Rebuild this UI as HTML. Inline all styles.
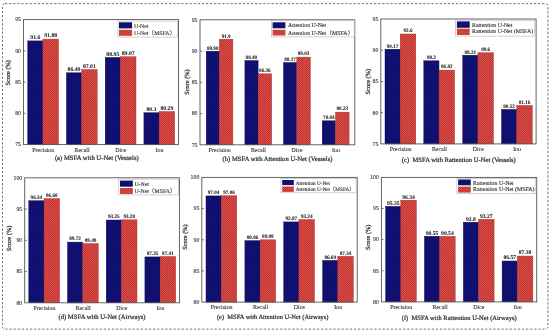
<!DOCTYPE html>
<html><head><meta charset="utf-8"><title>MSFA comparison</title>
<style>
html,body{margin:0;padding:0;background:#fff;}
body{width:550px;height:333px;overflow:hidden;}
svg{display:block;}
text{text-rendering:geometricPrecision;stroke:#333;stroke-width:0.22px;font-family:"Liberation Serif","Noto Serif CJK SC",serif;fill:#2a2a2a;}
.v{font-weight:bold;stroke-width:0.08px;text-anchor:middle;fill:#1c1c1c;}
.t{font-size:5.8px;text-anchor:end;stroke-width:0.1px;}
.c{font-size:5.9px;text-anchor:middle;stroke-width:0.12px;fill:#333;}
.cap{text-anchor:middle;}
.lg{stroke-width:0.12px;}
.yl{font-size:6.35px;text-anchor:middle;}
</style></head><body>
<svg width="550" height="333" viewBox="0 0 550 333">
<defs>
<pattern id="hr" width="1.5" height="1.5" patternUnits="userSpaceOnUse" patternTransform="rotate(45)">
<rect width="1.5" height="1.5" fill="#c02825"/><rect width="1.5" height="0.55" fill="#e56e66"/></pattern>
<pattern id="hb" width="1.5" height="1.5" patternUnits="userSpaceOnUse">
<rect width="1.5" height="1.5" fill="#0e0e6e"/><rect width="0.5" height="0.5" fill="#1d1d7e"/></pattern>
</defs>
<rect width="550" height="333" fill="#fff"/>
<rect x="2.5" y="3.6" width="545.4" height="325.5" rx="2.5" ry="2.5" fill="none" stroke="#666" stroke-width="0.9" stroke-dasharray="2.3 1.8"/>

<g>
<rect x="27.7" y="40.9" width="15.2" height="103.7" fill="url(#hb)" stroke="#08084a" stroke-width="0.4"/>
<rect x="42.9" y="39.1" width="15.6" height="105.5" fill="url(#hr)" stroke="#a82a28" stroke-width="0.4"/>
<text class="v" x="35.3" y="39.2" font-size="5.75">91.6</text>
<text class="v" x="50.7" y="37.4" font-size="5.75">91.88</text>
<text class="c" x="43.3" y="151.7">Precision</text>
<rect x="66.4" y="72.8" width="15.2" height="71.8" fill="url(#hb)" stroke="#08084a" stroke-width="0.4"/>
<rect x="81.6" y="69.5" width="15.6" height="75.1" fill="url(#hr)" stroke="#a82a28" stroke-width="0.4"/>
<text class="v" x="74.0" y="71.1" font-size="5.75">86.49</text>
<text class="v" x="89.4" y="67.8" font-size="5.75">87.01</text>
<text class="c" x="82.0" y="151.7">Recall</text>
<rect x="105.2" y="57.4" width="15.2" height="87.2" fill="url(#hb)" stroke="#08084a" stroke-width="0.4"/>
<rect x="120.4" y="56.7" width="15.6" height="87.9" fill="url(#hr)" stroke="#a82a28" stroke-width="0.4"/>
<text class="v" x="112.8" y="55.7" font-size="5.75">88.95</text>
<text class="v" x="128.2" y="55.0" font-size="5.75">89.07</text>
<text class="c" x="120.8" y="151.7">Dice</text>
<rect x="143.9" y="112.7" width="15.2" height="31.9" fill="url(#hb)" stroke="#08084a" stroke-width="0.4"/>
<rect x="159.1" y="111.5" width="15.6" height="33.1" fill="url(#hr)" stroke="#a82a28" stroke-width="0.4"/>
<text class="v" x="151.5" y="111.0" font-size="5.75">80.1</text>
<text class="v" x="166.9" y="109.8" font-size="5.75">80.29</text>
<text class="c" x="159.5" y="151.7">Iou</text>
<rect x="23.5" y="19.6" width="155.0" height="125.0" fill="none" stroke="#555" stroke-width="0.9"/>
<text class="t" x="21.0" y="21.4">95</text>
<line x1="23.5" y1="50.9" x2="25.7" y2="50.9" stroke="#555" stroke-width="0.8"/>
<text class="t" x="21.0" y="52.6">90</text>
<line x1="23.5" y1="82.1" x2="25.7" y2="82.1" stroke="#555" stroke-width="0.8"/>
<text class="t" x="21.0" y="83.9">85</text>
<line x1="23.5" y1="113.3" x2="25.7" y2="113.3" stroke="#555" stroke-width="0.8"/>
<text class="t" x="21.0" y="115.1">80</text>
<text class="t" x="21.0" y="146.4">75</text>
<text class="yl" transform="translate(10.3 72.8) rotate(-90)">Score (%)</text>
<rect x="118.0" y="21.1" width="59.5" height="16.0" fill="#fff" stroke="#b4b4b4" stroke-width="0.6"/>
<rect x="119.0" y="22.3" width="13.1" height="6.1" fill="url(#hb)"/>
<rect x="119.0" y="29.8" width="13.1" height="6.0" fill="url(#hr)"/>
<text class="lg" x="134.0" y="27.6" font-size="5.78">U-Net</text>
<text class="lg" x="134.0" y="34.9" font-size="5.78">U-Net（MSFA）</text>
<text class="cap" x="96.8" y="160.0" font-size="6.67" xml:space="preserve">(a) MSFA with U-Net (Vessels)</text>
</g>
<g>
<rect x="206.2" y="51.2" width="13.2" height="93.6" fill="url(#hb)" stroke="#08084a" stroke-width="0.4"/>
<rect x="219.3" y="39.2" width="13.6" height="105.6" fill="url(#hr)" stroke="#a82a28" stroke-width="0.4"/>
<text class="v" x="212.7" y="49.5" font-size="5.15">89.98</text>
<text class="v" x="226.2" y="37.5" font-size="5.15">91.9</text>
<text class="c" x="219.8" y="151.9">Precision</text>
<rect x="244.9" y="60.5" width="13.2" height="84.3" fill="url(#hb)" stroke="#08084a" stroke-width="0.4"/>
<rect x="258.1" y="73.8" width="13.6" height="71.0" fill="url(#hr)" stroke="#a82a28" stroke-width="0.4"/>
<text class="v" x="251.4" y="58.8" font-size="5.15">88.48</text>
<text class="v" x="264.9" y="72.1" font-size="5.15">86.36</text>
<text class="c" x="258.4" y="151.9">Recall</text>
<rect x="283.5" y="62.5" width="13.2" height="82.3" fill="url(#hb)" stroke="#08084a" stroke-width="0.4"/>
<rect x="296.8" y="57.1" width="13.6" height="87.7" fill="url(#hr)" stroke="#a82a28" stroke-width="0.4"/>
<text class="v" x="290.1" y="60.8" font-size="5.15">88.17</text>
<text class="v" x="303.6" y="55.4" font-size="5.15">89.03</text>
<text class="c" x="297.1" y="151.9">Dice</text>
<rect x="322.2" y="120.8" width="13.2" height="24.0" fill="url(#hb)" stroke="#08084a" stroke-width="0.4"/>
<rect x="335.5" y="112.1" width="13.6" height="32.7" fill="url(#hr)" stroke="#a82a28" stroke-width="0.4"/>
<text class="v" x="328.9" y="119.1" font-size="5.15">78.84</text>
<text class="v" x="342.3" y="110.4" font-size="5.15">80.23</text>
<text class="c" x="335.9" y="151.9">Iou</text>
<rect x="200.0" y="19.8" width="154.8" height="125.0" fill="none" stroke="#555" stroke-width="0.9"/>
<text class="t" x="197.5" y="21.6">95</text>
<line x1="200.0" y1="51.1" x2="202.2" y2="51.1" stroke="#555" stroke-width="0.8"/>
<text class="t" x="197.5" y="52.9">90</text>
<line x1="200.0" y1="82.3" x2="202.2" y2="82.3" stroke="#555" stroke-width="0.8"/>
<text class="t" x="197.5" y="84.1">85</text>
<line x1="200.0" y1="113.6" x2="202.2" y2="113.6" stroke="#555" stroke-width="0.8"/>
<text class="t" x="197.5" y="115.4">80</text>
<text class="t" x="197.5" y="146.6">75</text>
<text class="yl" transform="translate(188.5 82.1) rotate(-90)">Score (%)</text>
<rect x="271.4" y="20.6" width="82.8" height="16.3" fill="#fff" stroke="#b4b4b4" stroke-width="0.6"/>
<rect x="272.6" y="22.3" width="12.8" height="6.0" fill="url(#hb)"/>
<rect x="272.6" y="29.8" width="12.8" height="5.7" fill="url(#hr)"/>
<text class="lg" x="288.0" y="27.4" font-size="5.85">Attention U-Net</text>
<text class="lg" x="288.0" y="34.5" font-size="5.85">Attention U-Net（MSFA）</text>
<text class="cap" x="277.5" y="160.5" font-size="6.61" xml:space="preserve">(b) MSFA with Attention U-Net (Vessels)</text>
</g>
<g>
<rect x="385.0" y="49.2" width="15.2" height="94.7" fill="url(#hb)" stroke="#08084a" stroke-width="0.4"/>
<rect x="400.2" y="34.0" width="15.6" height="109.9" fill="url(#hr)" stroke="#a82a28" stroke-width="0.4"/>
<text class="v" x="392.6" y="47.5" font-size="5.15">90.17</text>
<text class="v" x="408.0" y="32.3" font-size="5.15">92.6</text>
<text class="c" x="400.6" y="151.0">Precision</text>
<rect x="423.8" y="60.8" width="15.2" height="83.1" fill="url(#hb)" stroke="#08084a" stroke-width="0.4"/>
<rect x="439.0" y="70.1" width="15.6" height="73.8" fill="url(#hr)" stroke="#a82a28" stroke-width="0.4"/>
<text class="v" x="431.4" y="59.1" font-size="5.15">88.3</text>
<text class="v" x="446.8" y="68.4" font-size="5.15">86.82</text>
<text class="c" x="439.4" y="151.0">Recall</text>
<rect x="462.7" y="55.2" width="15.2" height="88.7" fill="url(#hb)" stroke="#08084a" stroke-width="0.4"/>
<rect x="477.9" y="52.7" width="15.6" height="91.2" fill="url(#hr)" stroke="#a82a28" stroke-width="0.4"/>
<text class="v" x="470.3" y="53.5" font-size="5.15">89.21</text>
<text class="v" x="485.7" y="51.0" font-size="5.15">89.6</text>
<text class="c" x="478.3" y="151.0">Dice</text>
<rect x="501.5" y="109.4" width="15.2" height="34.5" fill="url(#hb)" stroke="#08084a" stroke-width="0.4"/>
<rect x="516.7" y="105.4" width="15.6" height="38.5" fill="url(#hr)" stroke="#a82a28" stroke-width="0.4"/>
<text class="v" x="509.1" y="107.7" font-size="5.15">80.52</text>
<text class="v" x="524.5" y="103.7" font-size="5.15">81.16</text>
<text class="c" x="517.1" y="151.0">Iou</text>
<rect x="380.8" y="19.0" width="155.3" height="124.9" fill="none" stroke="#555" stroke-width="0.9"/>
<text class="t" x="378.3" y="20.8">95</text>
<line x1="380.8" y1="50.2" x2="383.0" y2="50.2" stroke="#555" stroke-width="0.8"/>
<text class="t" x="378.3" y="52.0">90</text>
<line x1="380.8" y1="81.5" x2="383.0" y2="81.5" stroke="#555" stroke-width="0.8"/>
<text class="t" x="378.3" y="83.2">85</text>
<line x1="380.8" y1="112.7" x2="383.0" y2="112.7" stroke="#555" stroke-width="0.8"/>
<text class="t" x="378.3" y="114.5">80</text>
<text class="t" x="378.3" y="145.7">75</text>
<text class="yl" transform="translate(369.8 81.7) rotate(-90)">Score (%)</text>
<rect x="455.6" y="20.2" width="79.2" height="15.9" fill="#fff" stroke="#b4b4b4" stroke-width="0.6"/>
<rect x="456.9" y="21.4" width="12.8" height="6.4" fill="url(#hb)"/>
<rect x="456.9" y="28.7" width="12.8" height="6.3" fill="url(#hr)"/>
<text class="lg" x="472.0" y="26.8" font-size="5.83">Rattention U-Net</text>
<text class="lg" x="472.0" y="33.4" font-size="5.83">Rattention U-Net (MSFA)</text>
<text class="cap" x="458.8" y="161.5" font-size="6.62" xml:space="preserve">(c)  MSFA with Rattention U-Net (Vessels)</text>
</g>
<g>
<rect x="28.8" y="200.7" width="15.2" height="102.1" fill="url(#hb)" stroke="#08084a" stroke-width="0.4"/>
<rect x="44.0" y="198.5" width="15.6" height="104.3" fill="url(#hr)" stroke="#a82a28" stroke-width="0.4"/>
<text class="v" x="36.4" y="199.0" font-size="5.15">96.34</text>
<text class="v" x="51.8" y="196.8" font-size="5.15">96.68</text>
<text class="c" x="44.4" y="309.9">Precision</text>
<rect x="67.5" y="242.1" width="15.2" height="60.8" fill="url(#hb)" stroke="#08084a" stroke-width="0.4"/>
<rect x="82.7" y="243.5" width="15.6" height="59.3" fill="url(#hr)" stroke="#a82a28" stroke-width="0.4"/>
<text class="v" x="75.1" y="240.4" font-size="5.15">89.72</text>
<text class="v" x="90.5" y="241.8" font-size="5.15">89.49</text>
<text class="c" x="83.1" y="309.9">Recall</text>
<rect x="106.2" y="220.0" width="15.2" height="82.8" fill="url(#hb)" stroke="#08084a" stroke-width="0.4"/>
<rect x="121.4" y="219.8" width="15.6" height="83.0" fill="url(#hr)" stroke="#a82a28" stroke-width="0.4"/>
<text class="v" x="113.8" y="218.3" font-size="5.15">93.25</text>
<text class="v" x="129.2" y="218.1" font-size="5.15">93.28</text>
<text class="c" x="121.8" y="309.9">Dice</text>
<rect x="144.9" y="256.9" width="15.2" height="45.9" fill="url(#hb)" stroke="#08084a" stroke-width="0.4"/>
<rect x="160.1" y="256.5" width="15.6" height="46.3" fill="url(#hr)" stroke="#a82a28" stroke-width="0.4"/>
<text class="v" x="152.5" y="255.2" font-size="5.15">87.35</text>
<text class="v" x="167.9" y="254.8" font-size="5.15">87.41</text>
<text class="c" x="160.5" y="309.9">Iou</text>
<rect x="24.7" y="177.8" width="154.7" height="125.0" fill="none" stroke="#555" stroke-width="0.9"/>
<text class="t" x="22.2" y="179.6">100</text>
<line x1="24.7" y1="209.1" x2="26.9" y2="209.1" stroke="#555" stroke-width="0.8"/>
<text class="t" x="22.2" y="210.9">95</text>
<line x1="24.7" y1="240.3" x2="26.9" y2="240.3" stroke="#555" stroke-width="0.8"/>
<text class="t" x="22.2" y="242.1">90</text>
<line x1="24.7" y1="271.6" x2="26.9" y2="271.6" stroke="#555" stroke-width="0.8"/>
<text class="t" x="22.2" y="273.4">85</text>
<text class="t" x="22.2" y="304.6">80</text>
<text class="yl" transform="translate(10.9 238.5) rotate(-90)">Score (%)</text>
<rect x="118.8" y="179.1" width="59.6" height="15.8" fill="#fff" stroke="#b4b4b4" stroke-width="0.6"/>
<rect x="120.0" y="180.6" width="12.8" height="6.1" fill="url(#hb)"/>
<rect x="120.0" y="188.0" width="12.8" height="6.0" fill="url(#hr)"/>
<text class="lg" x="134.4" y="185.7" font-size="5.78">U-Net</text>
<text class="lg" x="134.4" y="193.3" font-size="5.78">U-Net（MSFA）</text>
<text class="cap" x="102.0" y="318.6" font-size="6.66" xml:space="preserve">(d) MSFA with U-Net (Airways)</text>
</g>
<g>
<rect x="206.0" y="195.9" width="15.2" height="106.2" fill="url(#hb)" stroke="#08084a" stroke-width="0.4"/>
<rect x="221.2" y="195.7" width="15.6" height="106.4" fill="url(#hr)" stroke="#a82a28" stroke-width="0.4"/>
<text class="v" x="213.6" y="194.2" font-size="5.15">97.04</text>
<text class="v" x="229.0" y="194.0" font-size="5.15">97.06</text>
<text class="c" x="221.6" y="309.2">Precision</text>
<rect x="244.9" y="240.6" width="15.2" height="61.5" fill="url(#hb)" stroke="#08084a" stroke-width="0.4"/>
<rect x="260.1" y="239.8" width="15.6" height="62.3" fill="url(#hr)" stroke="#a82a28" stroke-width="0.4"/>
<text class="v" x="252.5" y="238.9" font-size="5.15">89.86</text>
<text class="v" x="267.9" y="238.1" font-size="5.15">89.99</text>
<text class="c" x="260.5" y="309.2">Recall</text>
<rect x="283.7" y="221.9" width="15.2" height="80.2" fill="url(#hb)" stroke="#08084a" stroke-width="0.4"/>
<rect x="298.9" y="219.5" width="15.6" height="82.6" fill="url(#hr)" stroke="#a82a28" stroke-width="0.4"/>
<text class="v" x="291.3" y="220.2" font-size="5.15">92.87</text>
<text class="v" x="306.7" y="217.8" font-size="5.15">93.24</text>
<text class="c" x="299.3" y="309.2">Dice</text>
<rect x="322.6" y="260.4" width="15.2" height="41.7" fill="url(#hb)" stroke="#08084a" stroke-width="0.4"/>
<rect x="337.8" y="256.3" width="15.6" height="45.8" fill="url(#hr)" stroke="#a82a28" stroke-width="0.4"/>
<text class="v" x="330.2" y="258.7" font-size="5.15">86.69</text>
<text class="v" x="345.6" y="254.6" font-size="5.15">87.34</text>
<text class="c" x="338.2" y="309.2">Iou</text>
<rect x="201.8" y="177.4" width="155.4" height="124.7" fill="none" stroke="#555" stroke-width="0.9"/>
<text class="t" x="199.3" y="179.2">100</text>
<line x1="201.8" y1="208.6" x2="204.0" y2="208.6" stroke="#555" stroke-width="0.8"/>
<text class="t" x="199.3" y="210.4">95</text>
<line x1="201.8" y1="239.8" x2="204.0" y2="239.8" stroke="#555" stroke-width="0.8"/>
<text class="t" x="199.3" y="241.6">90</text>
<line x1="201.8" y1="270.9" x2="204.0" y2="270.9" stroke="#555" stroke-width="0.8"/>
<text class="t" x="199.3" y="272.7">85</text>
<text class="t" x="199.3" y="303.9">80</text>
<text class="yl" transform="translate(187.0 237.1) rotate(-90)">Score (%)</text>
<rect x="281.0" y="178.4" width="75.1" height="14.4" fill="#fff" stroke="#b4b4b4" stroke-width="0.6"/>
<rect x="282.2" y="180.0" width="11.6" height="5.1" fill="url(#hb)"/>
<rect x="282.2" y="186.5" width="11.6" height="5.4" fill="url(#hr)"/>
<text class="lg" x="295.8" y="184.6" font-size="5.26">Attention U-Net</text>
<text class="lg" x="295.8" y="190.9" font-size="5.26">Attention U-Net（MSFA）</text>
<text class="cap" x="272.7" y="318.6" font-size="6.47" xml:space="preserve">(e)  MSFA with Attention U-Net (Airways)</text>
</g>
<g>
<rect x="385.6" y="206.3" width="15.2" height="95.6" fill="url(#hb)" stroke="#08084a" stroke-width="0.4"/>
<rect x="400.8" y="200.2" width="15.6" height="101.7" fill="url(#hr)" stroke="#a82a28" stroke-width="0.4"/>
<text class="v" x="393.2" y="204.6" font-size="5.60">95.35</text>
<text class="v" x="408.6" y="198.5" font-size="5.60">96.34</text>
<text class="c" x="401.2" y="309.0">Precision</text>
<rect x="424.4" y="236.2" width="15.2" height="65.7" fill="url(#hb)" stroke="#08084a" stroke-width="0.4"/>
<rect x="439.6" y="236.3" width="15.6" height="65.6" fill="url(#hr)" stroke="#a82a28" stroke-width="0.4"/>
<text class="v" x="432.0" y="234.5" font-size="5.60">90.55</text>
<text class="v" x="447.4" y="234.6" font-size="5.60">90.54</text>
<text class="c" x="440.0" y="309.0">Recall</text>
<rect x="463.3" y="222.2" width="15.2" height="79.7" fill="url(#hb)" stroke="#08084a" stroke-width="0.4"/>
<rect x="478.5" y="219.3" width="15.6" height="82.6" fill="url(#hr)" stroke="#a82a28" stroke-width="0.4"/>
<text class="v" x="470.9" y="220.5" font-size="5.60">92.8</text>
<text class="v" x="486.3" y="217.6" font-size="5.60">93.27</text>
<text class="c" x="478.9" y="309.0">Dice</text>
<rect x="502.1" y="261.0" width="15.2" height="40.9" fill="url(#hb)" stroke="#08084a" stroke-width="0.4"/>
<rect x="517.3" y="256.0" width="15.6" height="45.9" fill="url(#hr)" stroke="#a82a28" stroke-width="0.4"/>
<text class="v" x="509.7" y="259.3" font-size="5.60">86.57</text>
<text class="v" x="525.1" y="254.3" font-size="5.60">87.38</text>
<text class="c" x="517.7" y="309.0">Iou</text>
<rect x="381.4" y="177.4" width="155.3" height="124.5" fill="none" stroke="#555" stroke-width="0.9"/>
<text class="t" x="378.9" y="179.2">100</text>
<line x1="381.4" y1="208.5" x2="383.6" y2="208.5" stroke="#555" stroke-width="0.8"/>
<text class="t" x="378.9" y="210.3">95</text>
<line x1="381.4" y1="239.6" x2="383.6" y2="239.6" stroke="#555" stroke-width="0.8"/>
<text class="t" x="378.9" y="241.4">90</text>
<line x1="381.4" y1="270.8" x2="383.6" y2="270.8" stroke="#555" stroke-width="0.8"/>
<text class="t" x="378.9" y="272.6">85</text>
<text class="t" x="378.9" y="303.7">80</text>
<text class="yl" transform="translate(370.3 237.3) rotate(-90)">Score (%)</text>
<rect x="456.9" y="178.4" width="78.9" height="15.1" fill="#fff" stroke="#b4b4b4" stroke-width="0.6"/>
<rect x="458.1" y="179.5" width="12.7" height="5.8" fill="url(#hb)"/>
<rect x="458.1" y="186.6" width="12.7" height="6.0" fill="url(#hr)"/>
<text class="lg" x="473.0" y="184.5" font-size="5.88">Rattention U-Net</text>
<text class="lg" x="473.0" y="191.0" font-size="5.88">Rattention U-Net (MSFA)</text>
<text class="cap" x="459.2" y="320.0" font-size="6.54" xml:space="preserve">(f)  MSFA with Rattention U-Net (Airways)</text>
</g>
</svg></body></html>
